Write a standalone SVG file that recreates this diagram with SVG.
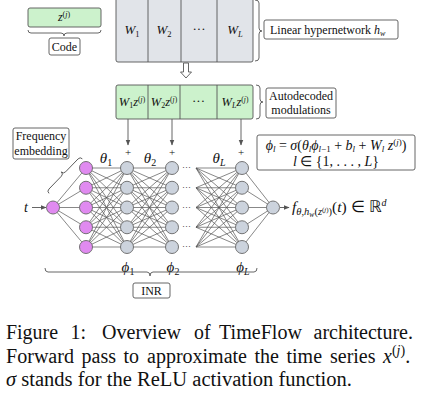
<svg xmlns="http://www.w3.org/2000/svg" width="423" height="406" viewBox="0 0 423 406">
<style>
text{font-family:"Liberation Serif","Times New Roman",serif;fill:#111}
.m{font-style:italic}
.lbl{fill:#fff;stroke:#555;stroke-width:0.9}
.green{fill:#ccf2cc;stroke:#555;stroke-width:0.9}
.gray{fill:#e1e4e9;stroke:#555;stroke-width:0.9}
.brace{fill:none;stroke:#555;stroke-width:0.9}
.pn{fill:#e08af0;stroke:#666;stroke-width:0.9}
.gn{fill:#ccd3dd;stroke:#666;stroke-width:0.9}
.e{stroke:#555;stroke-width:0.7;fill:none}
.ar{stroke:#555;stroke-width:0.9;fill:none}
.cap{font-size:20px}
</style>
<defs>
<marker id="ah" viewBox="0 0 10 10" refX="9" refY="5" markerWidth="6" markerHeight="6" orient="auto" markerUnits="userSpaceOnUse"><path d="M0,1 L10,5 L0,9 Z" fill="#555"/></marker>
</defs>
<rect width="423" height="406" fill="#fff"/>

<g id="code">
<rect class="green" x="28" y="8" width="73" height="19" rx="2"/>
<text x="64" y="21" font-size="12" text-anchor="middle" class="m">z<tspan font-size="8" dy="-4" font-style="normal">(</tspan><tspan font-size="8">j</tspan><tspan font-size="8" font-style="normal">)</tspan></text>
<path class="brace" d="M28,30 Q28,33 31,33 L61,33 Q64,33 64,36 Q64,33 67,33 L98,33 Q101,33 101,30"/>
<rect class="lbl" x="49" y="38" width="31" height="17" rx="2"/>
<text x="64.5" y="51" font-size="12" text-anchor="middle">Code</text>
</g>

<g id="hypernetwork">
<rect class="gray" x="116" y="-4" width="137" height="66" rx="2"/>
<line x1="148" y1="-4" x2="148" y2="62" stroke="#555" stroke-width="0.9"/>
<line x1="181" y1="-4" x2="181" y2="62" stroke="#555" stroke-width="0.9"/>
<line x1="217" y1="-4" x2="217" y2="62" stroke="#555" stroke-width="0.9"/>
<text x="132" y="34" font-size="13" text-anchor="middle" class="m">W<tspan font-size="8.5" dy="2.5" font-style="normal">1</tspan></text>
<text x="164" y="34" font-size="13" text-anchor="middle" class="m">W<tspan font-size="8.5" dy="2.5" font-style="normal">2</tspan></text>
<text x="199" y="33" font-size="13" text-anchor="middle">···</text>
<text x="235" y="34" font-size="13" text-anchor="middle" class="m">W<tspan font-size="8.5" dy="2.5">L</tspan></text>
<path class="brace" d="M255,0 Q259,0 259,3 L259,28 Q259,31 262,31 Q259,31 259,34 L259,58 Q259,61 255,61"/>
<rect class="lbl" x="264" y="20" width="134" height="19" rx="2"/>
<text x="270" y="34" font-size="12">Linear hypernetwork <tspan class="m">h</tspan><tspan class="m" font-size="8" dy="2">w</tspan></text>
</g>

<g id="hollow-arrow">
<path d="M183.5,63 L188.5,63 L188.5,72 L191.5,72 L186,78 L180.5,72 L183.5,72 Z" fill="#fff" stroke="#555" stroke-width="0.9"/>
</g>

<g id="modulations">
<rect class="green" x="116" y="85" width="137" height="34" rx="2"/>
<line x1="148" y1="85" x2="148" y2="119" stroke="#555" stroke-width="0.9"/>
<line x1="180" y1="85" x2="180" y2="119" stroke="#555" stroke-width="0.9"/>
<line x1="217" y1="85" x2="217" y2="119" stroke="#555" stroke-width="0.9"/>
<text x="132" y="106" font-size="12.5" text-anchor="middle" class="m">W<tspan font-size="8" dy="2" font-style="normal">1</tspan><tspan dy="-2">z</tspan><tspan font-size="7.5" dy="-4.5" font-style="normal">(</tspan><tspan font-size="7.5">j</tspan><tspan font-size="7.5" font-style="normal">)</tspan></text>
<text x="164" y="106" font-size="12.5" text-anchor="middle" class="m">W<tspan font-size="8" dy="2" font-style="normal">2</tspan><tspan dy="-2">z</tspan><tspan font-size="7.5" dy="-4.5" font-style="normal">(</tspan><tspan font-size="7.5">j</tspan><tspan font-size="7.5" font-style="normal">)</tspan></text>
<text x="198.5" y="105" font-size="13" text-anchor="middle">···</text>
<text x="235" y="106" font-size="12.5" text-anchor="middle" class="m">W<tspan font-size="8" dy="2">L</tspan><tspan dy="-2">z</tspan><tspan font-size="7.5" dy="-4.5" font-style="normal">(</tspan><tspan font-size="7.5">j</tspan><tspan font-size="7.5" font-style="normal">)</tspan></text>
<path class="brace" d="M256,85 Q260,85 260,88 L260,99 Q260,102 263,102 Q260,102 260,105 L260,116 Q260,119 256,119"/>
<rect class="lbl" x="266" y="88" width="70" height="30" rx="2"/>
<text x="301" y="100" font-size="12" text-anchor="middle">Autodecoded</text>
<text x="301" y="114" font-size="12" text-anchor="middle">modulations</text>
</g>

<g id="connectors">
<line class="ar" x1="128" y1="119" x2="128" y2="145" marker-end="url(#ah)"/>
<line class="ar" x1="172" y1="119" x2="172" y2="145" marker-end="url(#ah)"/>
<line class="ar" x1="241" y1="119" x2="241" y2="145" marker-end="url(#ah)"/>
<line class="ar" x1="32" y1="207.5" x2="46" y2="207.5" marker-end="url(#ah)"/>
<line class="ar" x1="280" y1="207.5" x2="289" y2="207.5" marker-end="url(#ah)"/>
<g class="e">
<path d="M53,207.5 L86,168 M53,207.5 L86,187.75 M53,207.5 L86,207.5 M53,207.5 L86,227.25 M53,207.5 L86,247"/>
<path d="M86,168 L127,168 M86,168 L127,187.75 M86,168 L127,207.5 M86,168 L127,227.25 M86,168 L127,247
M86,187.75 L127,168 M86,187.75 L127,187.75 M86,187.75 L127,207.5 M86,187.75 L127,227.25 M86,187.75 L127,247
M86,207.5 L127,168 M86,207.5 L127,187.75 M86,207.5 L127,207.5 M86,207.5 L127,227.25 M86,207.5 L127,247
M86,227.25 L127,168 M86,227.25 L127,187.75 M86,227.25 L127,207.5 M86,227.25 L127,227.25 M86,227.25 L127,247
M86,247 L127,168 M86,247 L127,187.75 M86,247 L127,207.5 M86,247 L127,227.25 M86,247 L127,247"/>
<path d="M127,168 L172,168 M127,168 L172,187.75 M127,168 L172,207.5 M127,168 L172,227.25 M127,168 L172,247
M127,187.75 L172,168 M127,187.75 L172,187.75 M127,187.75 L172,207.5 M127,187.75 L172,227.25 M127,187.75 L172,247
M127,207.5 L172,168 M127,207.5 L172,187.75 M127,207.5 L172,207.5 M127,207.5 L172,227.25 M127,207.5 L172,247
M127,227.25 L172,168 M127,227.25 L172,187.75 M127,227.25 L172,207.5 M127,227.25 L172,227.25 M127,227.25 L172,247
M127,247 L172,168 M127,247 L172,187.75 M127,247 L172,207.5 M127,247 L172,227.25 M127,247 L172,247"/>
<path d="M196,168 L242,168 M196,168 L242,187.75 M196,168 L242,207.5 M196,168 L242,227.25 M196,168 L242,247
M196,187.75 L242,168 M196,187.75 L242,187.75 M196,187.75 L242,207.5 M196,187.75 L242,227.25 M196,187.75 L242,247
M196,207.5 L242,168 M196,207.5 L242,187.75 M196,207.5 L242,207.5 M196,207.5 L242,227.25 M196,207.5 L242,247
M196,227.25 L242,168 M196,227.25 L242,187.75 M196,227.25 L242,207.5 M196,227.25 L242,227.25 M196,227.25 L242,247
M196,247 L242,168 M196,247 L242,187.75 M196,247 L242,207.5 M196,247 L242,227.25 M196,247 L242,247"/>
<path d="M242,168 L273,207.5 M242,187.75 L273,207.5 M242,207.5 L273,207.5 M242,227.25 L273,207.5 M242,247 L273,207.5"/>
</g>
</g>

<g id="input-node">
<text x="26" y="212" font-size="14" text-anchor="middle" class="m">t</text>
<circle class="pn" cx="53" cy="207.5" r="6.5"/>
</g>

<g id="embedding-layer">
<circle class="pn" cx="86" cy="168" r="6.5"/>
<circle class="pn" cx="86" cy="187.75" r="6.5"/>
<circle class="pn" cx="86" cy="207.5" r="6.5"/>
<circle class="pn" cx="86" cy="227.25" r="6.5"/>
<circle class="pn" cx="86" cy="247" r="6.5"/>
</g>

<g id="frequency-embedding">
<rect class="lbl" x="13" y="128" width="56" height="31" rx="2"/>
<text x="41" y="140" font-size="12" text-anchor="middle">Frequency</text>
<text x="41" y="155" font-size="12" text-anchor="middle">embedding</text>
<path class="brace" transform="translate(63.5,174) rotate(-46)" d="M-24,3 Q-24,0 -21,0 L-3,0 Q0,0 0,-3 Q0,0 3,0 L21,0 Q24,0 24,3"/>
</g>

<g id="layer-1">
<text x="128" y="156" font-size="11" text-anchor="middle">+</text>
<circle class="gn" cx="127" cy="168" r="6.5"/>
<circle class="gn" cx="127" cy="187.75" r="6.5"/>
<circle class="gn" cx="127" cy="207.5" r="6.5"/>
<circle class="gn" cx="127" cy="227.25" r="6.5"/>
<circle class="gn" cx="127" cy="247" r="6.5"/>
<text x="106" y="163" font-size="15" text-anchor="middle" class="m">θ<tspan font-size="10" dy="3" font-style="normal">1</tspan></text>
<text x="128" y="272" font-size="15" text-anchor="middle" class="m">ϕ<tspan font-size="10" dy="3" font-style="normal">1</tspan></text>
</g>

<g id="layer-2">
<text x="172" y="156" font-size="11" text-anchor="middle">+</text>
<circle class="gn" cx="172" cy="168" r="6.5"/>
<circle class="gn" cx="172" cy="187.75" r="6.5"/>
<circle class="gn" cx="172" cy="207.5" r="6.5"/>
<circle class="gn" cx="172" cy="227.25" r="6.5"/>
<circle class="gn" cx="172" cy="247" r="6.5"/>
<text x="150" y="163" font-size="15" text-anchor="middle" class="m">θ<tspan font-size="10" dy="3" font-style="normal">2</tspan></text>
<text x="173" y="272" font-size="15" text-anchor="middle" class="m">ϕ<tspan font-size="10" dy="3" font-style="normal">2</tspan></text>
<g font-size="9">
<text x="182" y="170">···</text>
<text x="182" y="189.75">···</text>
<text x="182" y="209.5">···</text>
<text x="182" y="229.25">···</text>
<text x="182" y="249">···</text>
</g>
</g>

<g id="layer-L">
<text x="241" y="156" font-size="11" text-anchor="middle">+</text>
<circle class="gn" cx="242" cy="168" r="6.5"/>
<circle class="gn" cx="242" cy="187.75" r="6.5"/>
<circle class="gn" cx="242" cy="207.5" r="6.5"/>
<circle class="gn" cx="242" cy="227.25" r="6.5"/>
<circle class="gn" cx="242" cy="247" r="6.5"/>
<text x="219" y="163" font-size="15" text-anchor="middle" class="m">θ<tspan font-size="10" dy="3">L</tspan></text>
<text x="243" y="272" font-size="15" text-anchor="middle" class="m">ϕ<tspan font-size="10" dy="3">L</tspan></text>
</g>

<g id="output-node">
<circle class="gn" cx="273" cy="207.5" r="6.5"/>
<text x="292" y="212" font-size="15.5" class="m">f<tspan font-size="10.5" dy="3">θ,h</tspan><tspan font-size="7.5" dy="1.5">w</tspan><tspan font-size="10.5" dy="-1.5" font-style="normal">(</tspan><tspan font-size="10.5">z</tspan><tspan font-size="7" dy="-3.5" font-style="normal">(</tspan><tspan font-size="7">j</tspan><tspan font-size="7" font-style="normal">)</tspan><tspan font-size="10.5" dy="3.5" font-style="normal">)</tspan><tspan dy="-3" font-style="normal">(</tspan>t<tspan font-style="normal">) ∈ ℝ</tspan><tspan font-size="10" dy="-6">d</tspan></text>
</g>

<g id="equation">
<rect class="lbl" x="257" y="135" width="158" height="35" rx="2"/>
<text x="336" y="150" font-size="14" text-anchor="middle" class="m">ϕ<tspan font-size="9" dy="2">l</tspan><tspan dy="-2" font-style="normal"> = </tspan>σ<tspan font-style="normal">(</tspan>θ<tspan font-size="9" dy="2">l</tspan><tspan dy="-2">ϕ</tspan><tspan font-size="9" dy="2">l</tspan><tspan font-size="9" font-style="normal">−1</tspan><tspan dy="-2" font-style="normal"> + </tspan>b<tspan font-size="9" dy="2">l</tspan><tspan dy="-2" font-style="normal"> + </tspan>W<tspan font-size="9" dy="2">l</tspan><tspan dy="-2"> z</tspan><tspan font-size="9" dy="-5" font-style="normal">(</tspan><tspan font-size="9">j</tspan><tspan font-size="9" font-style="normal">)</tspan><tspan dy="5" font-style="normal">)</tspan></text>
<text x="336" y="166" font-size="14" text-anchor="middle" class="m">l<tspan font-style="normal"> ∈ {1, . . . , </tspan>L<tspan font-style="normal">}</tspan></text>
</g>

<g id="inr">
<path class="brace" d="M45,268 Q45,272 48,272 L147,272 Q150,272 150,276 Q150,272 153,272 L254,272 Q257,272 257,268"/>
<rect class="lbl" x="133" y="283" width="37" height="15" rx="2"/>
<text x="151.5" y="295" font-size="12" text-anchor="middle">INR</text>
</g>

<g id="caption">
<text class="cap" x="6" y="339" textLength="52" lengthAdjust="spacingAndGlyphs">Figure</text>
<text class="cap" x="70.5" y="339" textLength="15.5" lengthAdjust="spacingAndGlyphs">1:</text>
<text class="cap" x="102" y="339" textLength="79" lengthAdjust="spacingAndGlyphs">Overview</text>
<text class="cap" x="194" y="339" textLength="16.5" lengthAdjust="spacingAndGlyphs">of</text>
<text class="cap" x="219" y="339" textLength="83" lengthAdjust="spacingAndGlyphs">TimeFlow</text>
<text class="cap" x="313.5" y="339" textLength="99.5" lengthAdjust="spacingAndGlyphs">architecture.</text>
<text class="cap" x="6" y="363" textLength="68" lengthAdjust="spacingAndGlyphs">Forward</text>
<text class="cap" x="81.5" y="363" textLength="34.5" lengthAdjust="spacingAndGlyphs">pass</text>
<text class="cap" x="123.5" y="363" textLength="15.5" lengthAdjust="spacingAndGlyphs">to</text>
<text class="cap" x="147" y="363" textLength="100" lengthAdjust="spacingAndGlyphs">approximate</text>
<text class="cap" x="254.5" y="363" textLength="24.5" lengthAdjust="spacingAndGlyphs">the</text>
<text class="cap" x="286.5" y="363" textLength="35.5" lengthAdjust="spacingAndGlyphs">time</text>
<text class="cap" x="330" y="363" textLength="45.5" lengthAdjust="spacingAndGlyphs">series</text>
<text class="cap" x="383" y="363"><tspan class="m">x</tspan><tspan font-size="14" dy="-8">(</tspan><tspan font-size="14" class="m">j</tspan><tspan font-size="14">)</tspan><tspan dy="8">.</tspan></text>
<text class="cap" x="6" y="386" textLength="346" lengthAdjust="spacingAndGlyphs"><tspan class="m">σ</tspan> stands for the ReLU activation function.</text>
</g>
</svg>
